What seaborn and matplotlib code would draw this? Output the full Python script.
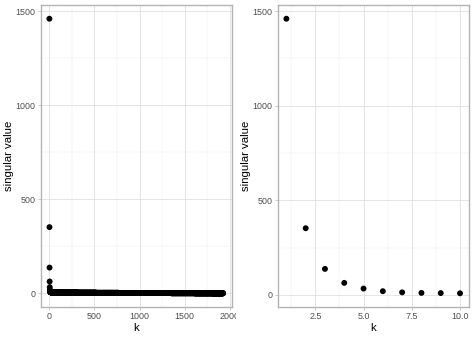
import numpy as np
import pandas as pd
import matplotlib
matplotlib.use("Agg")
import matplotlib.pyplot as plt
import seaborn as sns
from matplotlib.ticker import MultipleLocator
from matplotlib.transforms import Bbox

# ---- data ----
first_ten = [1460, 352, 137, 63, 33, 19, 13, 10, 9, 8]
next_vals = [7.5, 7, 6.8, 6.5, 6.2, 6, 5.8, 5.6, 5.4, 5.2,
             5.0, 4.9, 4.8, 4.7, 4.6, 4.5, 4.4, 4.3, 4.2, 4.1]
tail_levels = [4.0, 3.6, 3.2, 2.8, 2.4, 2.0, 1.6, 1.2, 0.8, 0.4]
tail_counts = [60, 90, 140, 200, 250, 280, 300, 260, 200, 115]

sv = np.concatenate([first_ten, next_vals, np.repeat(tail_levels, tail_counts)])
df_all = pd.DataFrame({"k": np.arange(1, len(sv) + 1), "sv": sv})
df_top = df_all.iloc[:10]

sns.set_theme(style="white")
plt.rcParams["font.family"] = ["Liberation Sans", "DejaVu Sans"]

fig = plt.figure(figsize=(4.74, 3.38), dpi=100)
axL = fig.add_axes([40.7 / 474, 31 / 338, 191 / 474, 302 / 338])
axR = fig.add_axes([277.7 / 474, 31 / 338, 191 / 474, 302 / 338])


def expand(lo, hi, mult):
    d = (hi - lo) * mult
    return lo - d, hi + d


for ax, df, xmaj in [(axL, df_all, 500), (axR, df_top, 2.5)]:
    sns.scatterplot(data=df, x="k", y="sv", ax=ax, color="black", s=18,
                    edgecolor="none", linewidth=0, zorder=3)
    ax.set_xlim(*expand(df["k"].min(), df["k"].max(), 0.05))
    ax.set_ylim(*expand(df["sv"].min(), df["sv"].max(), 0.05))
    ax.xaxis.set_major_locator(MultipleLocator(xmaj))
    ax.xaxis.set_minor_locator(MultipleLocator(xmaj / 2))
    ax.yaxis.set_major_locator(MultipleLocator(500))
    ax.yaxis.set_minor_locator(MultipleLocator(250))
    ax.set_facecolor("white")
    ax.grid(which="major", color="#DEDEDE", linewidth=0.55, zorder=0)
    ax.grid(which="minor", color="#EBEBEB", linewidth=0.3, zorder=0)
    ax.set_axisbelow(True)
    for sp in ax.spines.values():
        sp.set_color("#B3B3B3")
        sp.set_linewidth(1.0)
        sp.set_visible(True)
    ax.tick_params(which="major", length=2.0, width=0.5, color="#B3B3B3",
                   labelsize=6.4, labelcolor="#4D4D4D", pad=1.6,
                   bottom=True, left=True)
    ax.tick_params(which="minor", length=0)
    ax.set_xlabel("k", fontsize=8.2, color="black", labelpad=1.5)
    ax.set_ylabel("singular value", fontsize=8.2, color="black")
    ax.yaxis.set_label_coords(-0.14, 0.5)

axR.xaxis.set_major_formatter(matplotlib.ticker.FormatStrFormatter("%.1f"))

# clip the left panel's tick labels at its cell edge, like the reference
fig.canvas.draw()
clip = Bbox.from_extents(0, 0, 236 * fig.dpi / 100, fig.bbox.height)
for lab in axL.get_xticklabels():
    lab.set_clip_box(clip)
    lab.set_clip_on(True)

fig.savefig("out.png", dpi=100)
